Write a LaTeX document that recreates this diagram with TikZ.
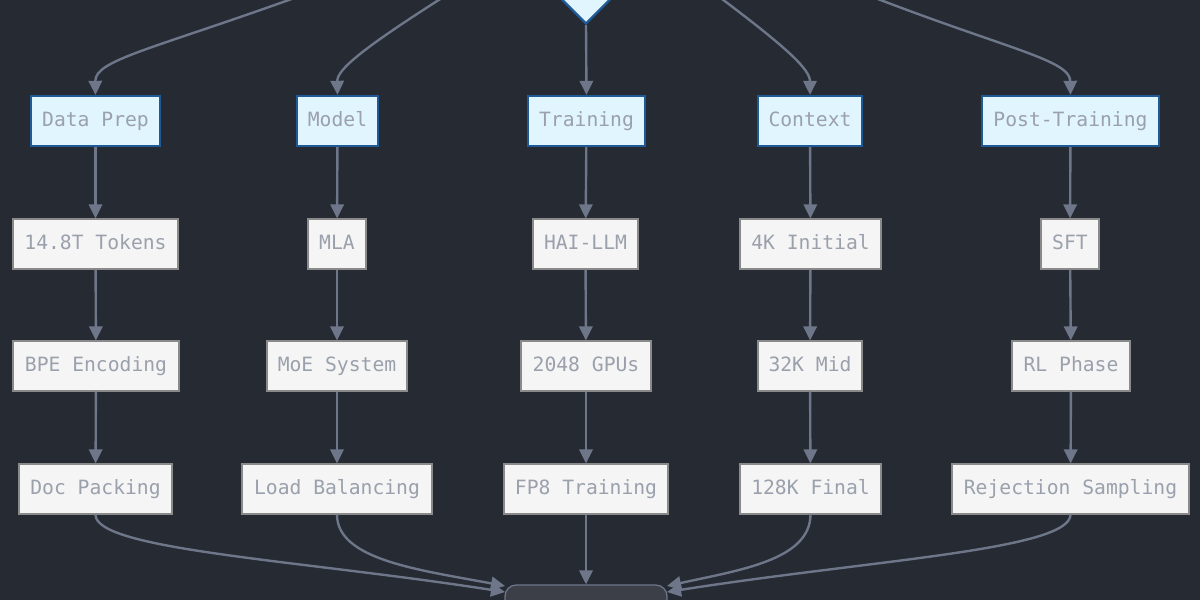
\documentclass[tikz,border=0pt]{standalone}
\usepackage{fontspec}
\setmonofont{DejaVu Sans Mono}
\usetikzlibrary{shapes.geometric,arrows.meta}
\definecolor{bg}{HTML}{262A33}
\definecolor{txt}{HTML}{9AA0AC}
\definecolor{edge}{HTML}{6E768A}
\definecolor{bluefill}{HTML}{E1F5FE}
\definecolor{blueline}{HTML}{1F5A96}
\definecolor{grayfill}{HTML}{F5F5F5}
\definecolor{grayline}{HTML}{8A8A8A}
\newcommand{\lbl}[1]{\vphantom{Tg}#1}
\begin{document}
\begin{tikzpicture}[x=0.5mm,y=-0.5mm,
  base/.style={rectangle,inner sep=0pt,minimum height=25mm,text=txt,font=\ttfamily\fontsize{28}{32}\selectfont},
  head/.style={base,fill=bluefill,draw=blueline,line width=3.2pt},
  item/.style={base,fill=grayfill,draw=grayline,line width=1.6pt},
  arr/.style={draw=edge,line width=3.4pt,-{Triangle[length=20pt,width=19pt]}}]
\fill[bg] (0,0) rectangle (1200,600);
\clip (0,0) rectangle (1200,600);
\node[diamond,fill=bluefill,draw=blueline,line width=3.2pt,minimum width=50mm,minimum height=50mm,inner sep=0pt] (top) at (586,-26) {};
% row 1
\node[head,minimum width=64.5mm] (h1) at (95.5,121) {\lbl{Data Prep}};
\node[head,minimum width=40.5mm] (h2) at (337.5,121) {\lbl{Model}};
\node[head,minimum width=58.5mm] (h3) at (586.5,121) {\lbl{Training}};
\node[head,minimum width=52mm] (h4) at (810,121) {\lbl{Context}};
\node[head,minimum width=88.5mm] (h5) at (1070.5,121) {\lbl{Post-Training}};
% row 2
\node[item,minimum width=82.5mm] (a2) at (95.5,244) {\lbl{14.8T Tokens}};
\node[item,minimum width=29mm] (b2) at (337,244) {\lbl{MLA}};
\node[item,minimum width=52.5mm] (c2) at (585.5,244) {\lbl{HAI-LLM}};
\node[item,minimum width=70.5mm] (d2) at (810.5,244) {\lbl{4K Initial}};
\node[item,minimum width=29mm] (e2) at (1070,244) {\lbl{SFT}};
% row 3
\node[item,minimum width=83mm] (a3) at (96,366) {\lbl{BPE Encoding}};
\node[item,minimum width=70mm] (b3) at (337,366) {\lbl{MoE System}};
\node[item,minimum width=65mm] (c3) at (586,366) {\lbl{2048 GPUs}};
\node[item,minimum width=52mm] (d3) at (810,366) {\lbl{32K Mid}};
\node[item,minimum width=59mm] (e3) at (1071,366) {\lbl{RL Phase}};
% row 4
\node[item,minimum width=76.5mm] (a4) at (95.5,489) {\lbl{Doc Packing}};
\node[item,minimum width=95mm] (b4) at (337,489) {\lbl{Load Balancing}};
\node[item,minimum width=82mm] (c4) at (586,489) {\lbl{FP8 Training}};
\node[item,minimum width=70.5mm] (d4) at (810.5,489) {\lbl{128K Final}};
\node[item,minimum width=118.5mm] (e4) at (1070.5,489) {\lbl{Rejection Sampling}};
% bottom
\node[rectangle,rounded corners=16pt,fill=bg!90!white,draw=edge,line width=1.8pt,minimum width=81mm,minimum height=25mm] (bot) at (586,610) {};
% top edges
\coordinate (t1) at (300,-4);
\coordinate (t2) at (445,-4);
\coordinate (t4) at (718,-4);
\coordinate (t5) at (870,-4);
\draw[arr] (t1) .. controls (150,50) and (95,60) .. (h1.north);
\draw[arr] (t2) .. controls (360,50) and (337,70) .. (h2.north);
\draw[arr] (top.south) -- (h3.north);
\draw[arr] (t4) .. controls (790,50) and (810,70) .. (h4.north);
\draw[arr] (t5) .. controls (1010,50) and (1070,60) .. (h5.north);
\foreach \c in {a,b,c,d,e}{
  \draw[arr] (\c2) -- (\c3);
  \draw[arr] (\c3) -- (\c4);
}
\foreach \n/\c in {1/a,2/b,3/c,4/d,5/e}{\draw[arr] (h\n) -- (\c2);}
\draw[arr] (a4.south) .. controls (95,550) and (300,560) .. (505,592);
\draw[arr] (b4.south) .. controls (337,560) and (420,570) .. (505,586);
\draw[arr] (c4.south) -- (bot.north);
\draw[arr] (d4.south) .. controls (810,560) and (740,570) .. (667,586);
\draw[arr] (e4.south) .. controls (1070,550) and (870,560) .. (667,592);
\end{tikzpicture}
\end{document}
